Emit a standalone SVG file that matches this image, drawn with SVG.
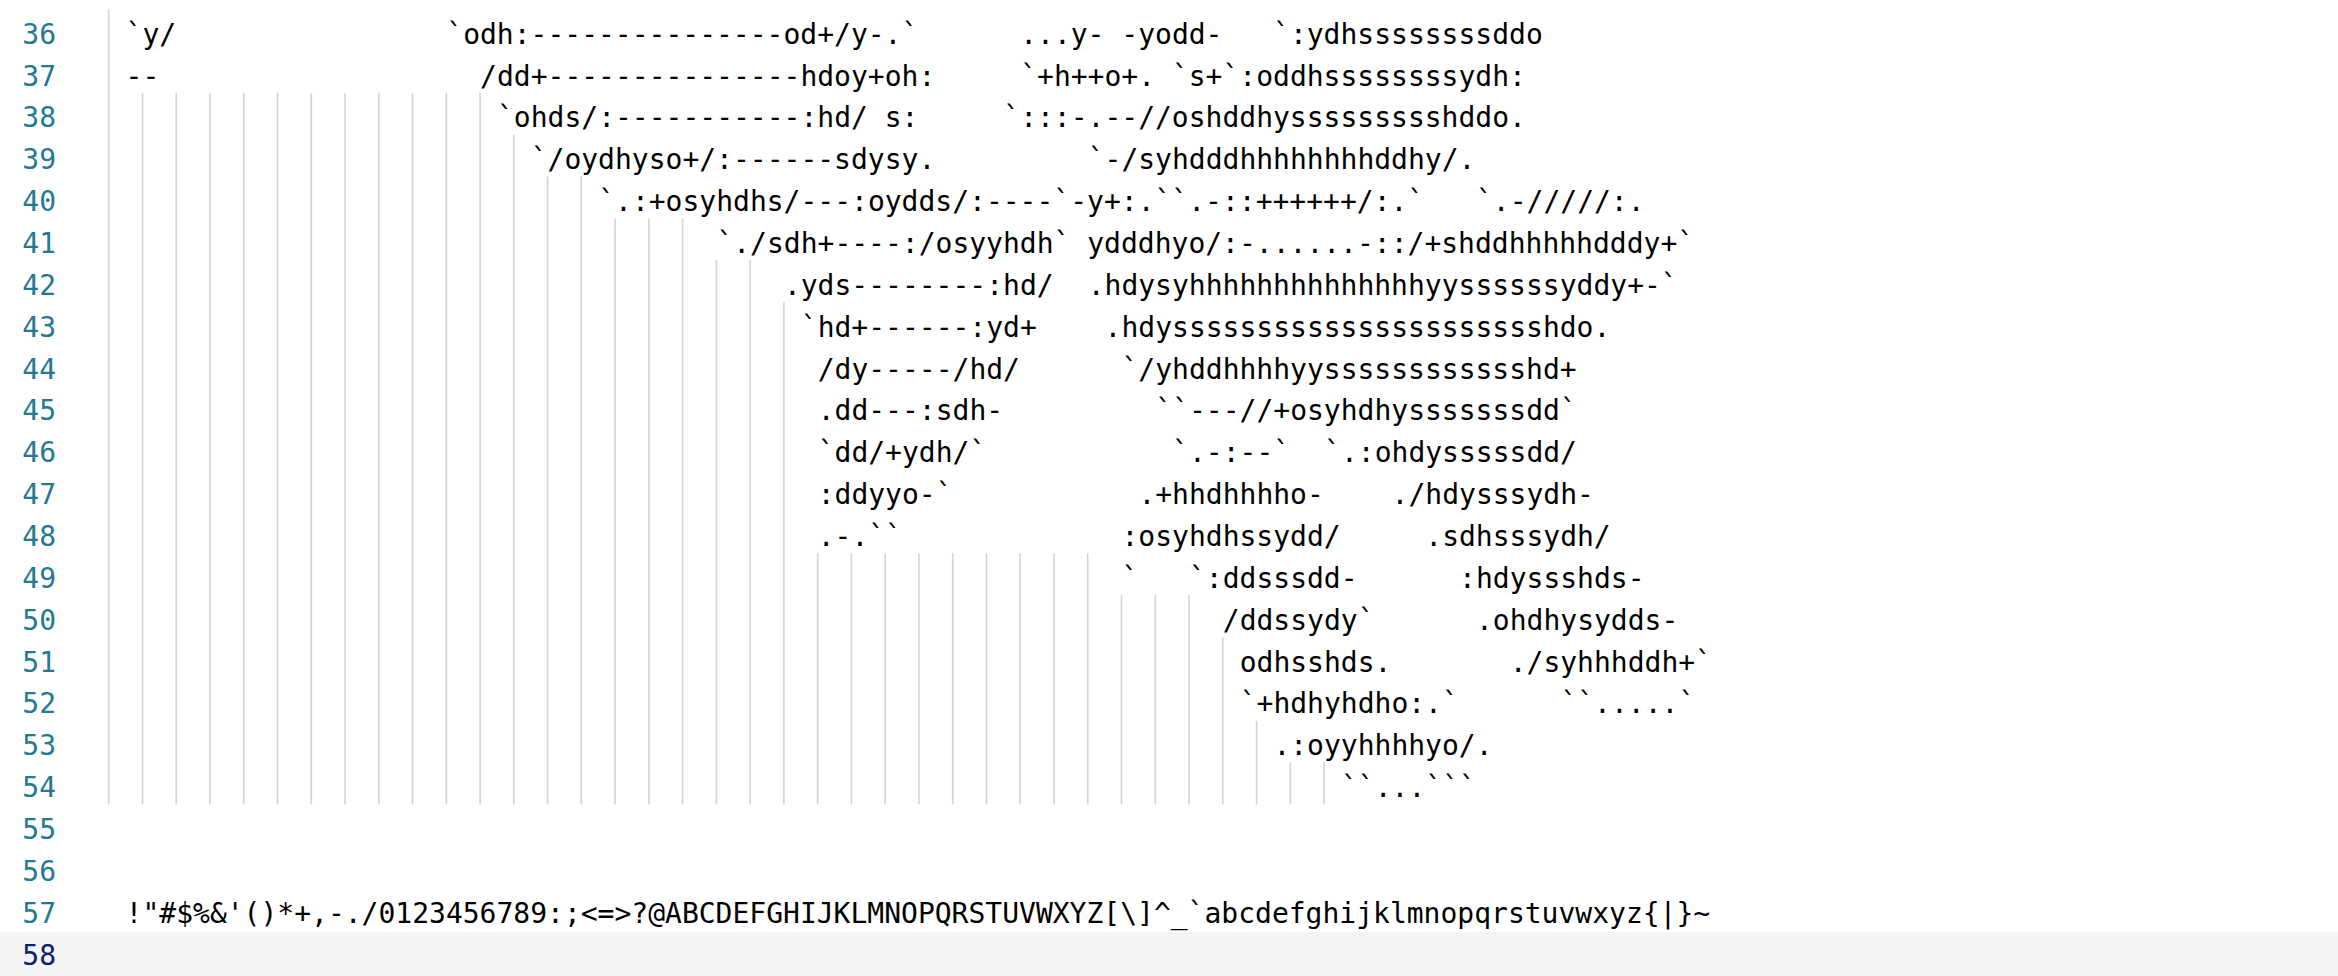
<svg xmlns="http://www.w3.org/2000/svg" width="2338" height="976" viewBox="0 0 2338 976">
<style>
text{font-family:"DejaVu Sans Mono","Liberation Mono",monospace;font-size:28px;white-space:pre}
.t{fill:#000}
.n{fill:#237893;text-anchor:end}
.cur{fill:#0b216f;text-anchor:end}
.g{stroke:#d4d4d4;stroke-width:1.6;fill:none}
</style>
<rect width="2338" height="976" fill="#fff"/>
<rect id="current-line" x="0" y="932" width="2338" height="44" fill="#f4f4f4"/>
<g id="guides">
<path class="g" d="M108.7 9.1V804.4M142.5 92.8V804.4M176.2 92.8V804.4M210 92.8V804.4M243.7 92.8V804.4M277.5 92.8V804.4M311.3 92.8V804.4M345 92.8V804.4M378.8 92.8V804.4M412.5 92.8V804.4M446.3 92.8V804.4M480.1 92.8V804.4M513.8 134.7V804.4M547.6 176.5V804.4M581.3 176.5V804.4M615.1 218.4V804.4M648.9 218.4V804.4M682.6 218.4V804.4M716.4 260.2V804.4M750.1 260.2V804.4M783.9 302.1V804.4M817.7 553.3V804.4M851.4 553.3V804.4M885.2 553.3V804.4M918.9 553.3V804.4M952.7 553.3V804.4M986.5 553.3V804.4M1020.2 553.3V804.4M1054 553.3V804.4M1087.7 553.3V804.4M1121.5 595.1V804.4M1155.3 595.1V804.4M1189 595.1V804.4M1222.8 637V804.4M1256.6 720.7V804.4M1290.3 762.6V804.4M1324.1 762.6V804.4"/>
</g>
<g id="line-numbers">
<text class="n" x="56" y="43.6">36</text>
<text class="n" x="56" y="85.5">37</text>
<text class="n" x="56" y="127.3">38</text>
<text class="n" x="56" y="169.2">39</text>
<text class="n" x="56" y="211">40</text>
<text class="n" x="56" y="252.9">41</text>
<text class="n" x="56" y="294.8">42</text>
<text class="n" x="56" y="336.6">43</text>
<text class="n" x="56" y="378.5">44</text>
<text class="n" x="56" y="420.3">45</text>
<text class="n" x="56" y="462.2">46</text>
<text class="n" x="56" y="504.1">47</text>
<text class="n" x="56" y="545.9">48</text>
<text class="n" x="56" y="587.8">49</text>
<text class="n" x="56" y="629.6">50</text>
<text class="n" x="56" y="671.5">51</text>
<text class="n" x="56" y="713.4">52</text>
<text class="n" x="56" y="755.2">53</text>
<text class="n" x="56" y="797.1">54</text>
<text class="n" x="56" y="838.9">55</text>
<text class="n" x="56" y="880.8">56</text>
<text class="n" x="56" y="922.7">57</text>
<text class="cur" x="56" y="964.5">58</text>
</g>
<g id="code" class="t" xml:space="preserve">
<text y="43.6"><tspan x="125.6">`y/</tspan><tspan x="446.3">`odh:---------------od+/y-.`</tspan><tspan x="1020.2">...y- -yodd-   `:ydhssssssssddo</tspan></text>
<text y="85.5"><tspan x="125.6">--</tspan><tspan x="480.1">/dd+---------------hdoy+oh:</tspan><tspan x="1020.2">`+h++o+. `s+`:oddhssssssssydh:</tspan></text>
<text y="127.3"><tspan x="497">`ohds/:-----------:hd/ s:</tspan><tspan x="1003.3">`:::-.--//oshddhyssssssssshddo.</tspan></text>
<text y="169.2"><tspan x="530.7">`/oydhyso+/:------sdysy.</tspan><tspan x="1087.7">`-/syhdddhhhhhhhhddhy/.</tspan></text>
<text y="211"><tspan x="598.2">`.:+osyhdhs/---:oydds/:----`-y+:.``.-::++++++/:.`</tspan><tspan x="1476">`.-/////:.</tspan></text>
<text y="252.9"><tspan x="716.4">`./sdh+----:/osyyhdh` ydddhyo/:-......-::/+shddhhhhhdddy+`</tspan></text>
<text y="294.8"><tspan x="783.9">.yds--------:hd/</tspan><tspan x="1087.7">.hdysyhhhhhhhhhhhhhhyyssssssyddy+-`</tspan></text>
<text y="336.6"><tspan x="800.8">`hd+------:yd+</tspan><tspan x="1104.6">.hdysssssssssssssssssssssshdo.</tspan></text>
<text y="378.5"><tspan x="817.7">/dy-----/hd/</tspan><tspan x="1121.5">`/yhddhhhhyysssssssssssshd+</tspan></text>
<text y="420.3"><tspan x="817.7">.dd---:sdh-</tspan><tspan x="1155.3">``---//+osyhdhysssssssdd`</tspan></text>
<text y="462.2"><tspan x="817.7">`dd/+ydh/`</tspan><tspan x="1172.1">`.-:--`</tspan><tspan x="1324.1">`.:ohdysssssdd/</tspan></text>
<text y="504.1"><tspan x="817.7">:ddyyo-`</tspan><tspan x="1138.4">.+hhdhhhho-</tspan><tspan x="1391.6">./hdysssydh-</tspan></text>
<text y="545.9"><tspan x="817.7">.-.``</tspan><tspan x="1121.5">:osyhdhssydd/</tspan><tspan x="1425.3">.sdhsssydh/</tspan></text>
<text y="587.8"><tspan x="1121.5">`</tspan><tspan x="1189">`:ddsssdd-</tspan><tspan x="1459.1">:hdyssshds-</tspan></text>
<text y="629.6"><tspan x="1222.8">/ddssydy`</tspan><tspan x="1476">.ohdhysydds-</tspan></text>
<text y="671.5"><tspan x="1239.7">odhsshds.</tspan><tspan x="1509.7">./syhhhddh+`</tspan></text>
<text y="713.4"><tspan x="1239.7">`+hdhyhdho:.`</tspan><tspan x="1560.4">``.....`</tspan></text>
<text y="755.2"><tspan x="1273.4">.:oyyhhhhyo/.</tspan></text>
<text y="797.1"><tspan x="1341">``...```</tspan></text>
<text y="922.7"><tspan x="125.6">!"#$%&amp;'()*+,-./0123456789:;&lt;=&gt;?@ABCDEFGHIJKLMNOPQRSTUVWXYZ[\]^_`abcdefghijklmnopqrstuvwxyz{|}~</tspan></text>
</g>
</svg>
